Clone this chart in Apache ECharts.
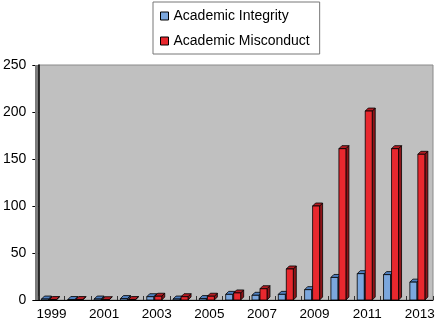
<!DOCTYPE html>
<html>
<head>
<meta charset="utf-8">
<script src="https://cdn.jsdelivr.net/npm/echarts@6/dist/echarts.min.js"></script>
<style>
  html, body { margin: 0; padding: 0; background: #fff; }
  #chart { width: 440px; height: 322px; }
</style>
</head>
<body>
<div id="chart"></div>
<script>
var years = ["1999", "2000", "2001", "2002", "2003", "2004", "2005", "2006",
  "2007", "2008", "2009", "2010", "2011", "2012", "2013"];
var integrity = [1, 0.5, 1, 1.5, 3.5, 1, 1.5, 6, 5, 6, 11, 24, 28, 27, 19];
var misconduct = [0.5, 0.5, 0.3, 0.5, 4, 3.5, 4, 7.5, 12, 33, 100, 161, 201, 161, 155];
var yTicks = [0, 50, 100, 150, 200, 250];

// draws one 3D-looking bar (front, top and right side)
function bar3d(offset, front, top, side) {
  return function (params, api) {
    var base = api.coord([api.value(0), 0]);
    var head = api.coord([api.value(0), api.value(1)]);
    var w = 7, d = 3;
    var x = base[0] + offset;
    var y0 = base[1], y1 = head[1];
    var line = { stroke: "#000", lineWidth: 0.8 };
    return {
      type: "group",
      children: [
        {
          type: "polygon",
          shape: { points: [[x + w, y1], [x + w + d, y1 - d], [x + w + d, y0 - d], [x + w, y0]] },
          style: Object.assign({ fill: side }, line)
        },
        {
          type: "polygon",
          shape: { points: [[x, y1], [x + d, y1 - d], [x + w + d, y1 - d], [x + w, y1]] },
          style: Object.assign({ fill: top }, line)
        },
        {
          type: "rect",
          shape: { x: x, y: y1, width: w, height: y0 - y1 },
          style: Object.assign({ fill: front }, line)
        }
      ]
    };
  };
}

var chart = echarts.init(document.getElementById("chart"));
var option = {
  animation: false,
  textStyle: { fontFamily: "Liberation Sans, Arial, sans-serif", color: "#000" },
  legend: {
    orient: "vertical",
    left: 153,
    top: 2,
    padding: [7, 10, 6, 7],
    itemGap: 11,
    itemWidth: 8,
    itemHeight: 8,
    backgroundColor: "#fff",
    borderColor: "#777",
    borderWidth: 1,
    textStyle: { fontSize: 14, color: "#000" },
    data: [
      { name: "Academic Integrity", icon: "rect", itemStyle: { color: "#7ba7de", borderColor: "#000", borderWidth: 1 } },
      { name: "Academic Misconduct", icon: "rect", itemStyle: { color: "#e8282e", borderColor: "#000", borderWidth: 1 } }
    ]
  },
  grid: {
    left: 35,
    right: 7,
    top: 65,
    bottom: 22,
    show: true,
    backgroundColor: "#c0c0c0",
    borderColor: "#8a8a8a",
    borderWidth: 1
  },
  graphic: [
    { type: "rect", left: 35, top: 65, shape: { width: 3, height: 235 }, style: { fill: "#7c7c7c" }, z: 1 }
  ],
  xAxis: {
    type: "category",
    data: years,
    axisLine: { lineStyle: { color: "#000", width: 1 } },
    axisTick: { show: true, inside: true, length: 4, interval: 0, lineStyle: { color: "#333" } },
    axisLabel: { interval: 1, fontSize: 13.5, color: "#000", margin: 7 }
  },
  yAxis: {
    type: "value",
    min: yTicks[0],
    max: yTicks[yTicks.length - 1],
    interval: 50,
    axisLine: { show: true, lineStyle: { color: "#000", width: 1.5 } },
    axisTick: { show: true, length: 6, lineStyle: { color: "#000" } },
    axisLabel: { fontSize: 14, color: "#000", margin: 12 },
    splitLine: { show: false }
  },
  series: [
    {
      name: "Academic Integrity",
      type: "custom",
      renderItem: bar3d(-10, "#7ba7de", "#4f7fbf", "#3c649c"),
      encode: { x: 0, y: 1 },
      itemStyle: { color: "#7ba7de" },
      data: integrity.map(function (v, i) { return [i, v]; }),
      z: 3
    },
    {
      name: "Academic Misconduct",
      type: "custom",
      renderItem: bar3d(-2, "#e8282e", "#b31c22", "#8e1519"),
      encode: { x: 0, y: 1 },
      itemStyle: { color: "#e8282e" },
      data: misconduct.map(function (v, i) { return [i, v]; }),
      z: 4
    }
  ]
};
chart.setOption(option);
</script>
</body>
</html>
